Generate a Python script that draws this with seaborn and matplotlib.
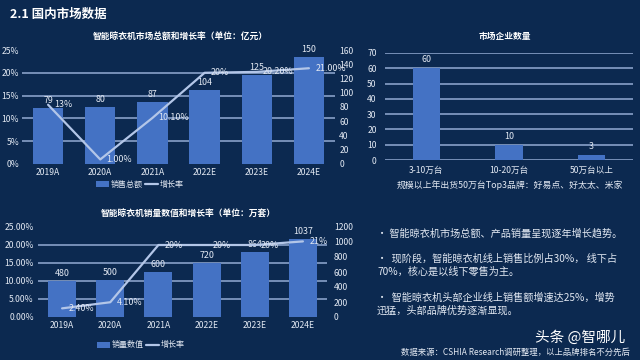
import numpy as np
import pandas as pd
import matplotlib
matplotlib.use("Agg")
import matplotlib.pyplot as plt
import seaborn as sns
from matplotlib.patches import Patch
from matplotlib.lines import Line2D
from matplotlib.ticker import FuncFormatter

# ---------------- data ----------------
years = ["2019A", "2020A", "2021A", "2022E", "2023E", "2024E"]
market_total = [79, 80, 87, 104, 125, 150]          # 亿元
market_rate = [13.0, 1.0, 10.1, 20.0, 20.2, 21.0]   # %
market_rate_labels = ["13%", "1.00%", "10.10%", "20%", "20.20%", "21.00%"]

sales_volume = [480, 500, 600, 720, 864, 1037]      # 万套
sales_rate = [2.4, 4.1, 20.0, 20.0, 20.0, 21.0]      # %
sales_rate_labels = ["2.40%", "4.10%", "20%", "20%", "20%", "21%"]

firm_groups = ["3-10万台", "10-20万台", "50万台以上"]
firm_counts = [60, 10, 3]

# ---------------- style ----------------
BG = "#0c2950"
BAR = "#4472c4"
LINE = "#b3c6e8"
GRID = "#93abd3"
TXT = "#e3e9f3"
TICK_FS = 6.2
LAB_FS = 6.4

sns.set_theme(style="dark", rc={"axes.facecolor": BG, "figure.facecolor": BG})
plt.rcParams["font.family"] = ["Noto Sans CJK SC", "DejaVu Sans"]

fig = plt.figure(figsize=(6.4, 3.6), dpi=100, facecolor=BG)


def frac(x0, y0, x1, y1):
    return [x0 / 640, 1 - y1 / 360, (x1 - x0) / 640, (y1 - y0) / 360]


def combo(rect, cats, bars, bmax, bstep, rates, rate_labels, pct_fmt, rpad, lpad):
    ax = fig.add_axes(rect)
    ax.set_facecolor("none")
    df = pd.DataFrame({"cat": cats, "val": bars, "rate": rates, "pos": np.arange(len(cats))})
    sns.barplot(data=df, x="cat", y="val", color=BAR, saturation=1, width=0.58, ax=ax,
                zorder=2, edgecolor="none", linewidth=0)
    ax.set_ylim(0, bmax)
    ax.set_yticks(np.arange(0, bmax + 1, bstep))
    ax.set_yticks(np.linspace(0, bmax, 6), minor=True)
    ax.grid(False)
    ax.grid(which="minor", axis="y", color=GRID, lw=1.1)
    ax.set_axisbelow(True)
    ax.set_xlabel("")
    ax.set_ylabel("")
    ax.bar_label(ax.containers[0], padding=2, fontsize=LAB_FS, color=TXT)
    for s in ax.spines.values():
        s.set_visible(False)

    ax2 = ax.twinx()
    sns.lineplot(data=df, x="pos", y="rate", ax=ax2, color=LINE, lw=1.6)
    ax2.yaxis.tick_left()
    ax.yaxis.tick_right()
    ax.tick_params(which="both", length=0, colors=TXT, labelsize=TICK_FS)
    ax.tick_params(axis="y", pad=rpad)
    ax.tick_params(axis="x", pad=3)
    ax2.set_ylim(0, 25)
    ax2.set_yticks(np.arange(0, 26, 5))
    ax2.yaxis.set_major_formatter(FuncFormatter(lambda v, p: pct_fmt.format(v)))
    ax2.grid(False)
    ax2.tick_params(length=0, colors=TXT, labelsize=TICK_FS, pad=lpad)
    ax2.set_xlabel("")
    ax2.set_ylabel("")
    for s in ax2.spines.values():
        s.set_visible(False)
    for i, (v, lab) in enumerate(zip(rates, rate_labels)):
        ax2.annotate(lab, (i, v), xytext=(4.5, 0), textcoords="offset points",
                     ha="left", va="center", fontsize=LAB_FS, color=TXT)
    ax.set_xlim(-0.5, len(cats) - 0.5)
    return ax


combo(frac(22, 50, 335, 164), years, market_total, 160, 20, market_rate,
      market_rate_labels, "{:.0f}%", 3, 2)
combo(frac(38, 227, 327, 317), years, sales_volume, 1200, 200, sales_rate,
      sales_rate_labels, "{:.2f}%", 5, 3)

# ---------------- firm count chart ----------------
ax3 = fig.add_axes(frac(385, 53, 633, 160))
ax3.set_facecolor("none")
df3 = pd.DataFrame({"g": firm_groups, "n": firm_counts})
sns.barplot(data=df3, x="g", y="n", color=BAR, saturation=1, width=0.33, ax=ax3, zorder=2,
            edgecolor="none", linewidth=0)
ax3.set_ylim(0, 70)
ax3.set_yticks(np.arange(0, 71, 10))
ax3.grid(False)
ax3.grid(axis="y", color=GRID, lw=1.1)
ax3.set_axisbelow(True)
ax3.tick_params(length=0, colors=TXT, labelsize=TICK_FS)
ax3.tick_params(axis="y", pad=6)
ax3.tick_params(axis="x", pad=4)
ax3.set_xlabel("")
ax3.set_ylabel("")
ax3.bar_label(ax3.containers[0], padding=3, fontsize=LAB_FS, color=TXT)
for s in ax3.spines.values():
    s.set_visible(False)

# ---------------- legends ----------------
for (cx, cy, name) in [(140, 184, "销售总额"), (141, 345, "销量数值")]:
    handles = [Patch(facecolor=BAR, edgecolor="none"), Line2D([], [], color=LINE, lw=1.6)]
    fig.legend(handles, [name, "增长率"], loc="center", bbox_to_anchor=(cx / 640, 1 - cy / 360),
               ncol=2, frameon=False, fontsize=5.8, labelcolor=TXT, handlelength=1.6,
               handleheight=0.7, handletextpad=0.3, columnspacing=0.2, borderpad=0)

# ---------------- texts ----------------
fig.text(10 / 640, 1 - 14 / 360, "2.1 国内市场数据", fontsize=9, fontweight="bold",
         color="white", va="center", ha="left")
fig.text(180 / 640, 1 - 37 / 360, "智能晾衣机市场总额和增长率（单位：亿元）", fontsize=6.3,
         fontweight="bold", color="white", ha="center", va="center")
fig.text(505 / 640, 1 - 37 / 360, "市场企业数量", fontsize=6.3, fontweight="bold",
         color="white", ha="center", va="center")
fig.text(188 / 640, 1 - 214 / 360, "智能晾衣机销量数值和增长率（单位：万套）", fontsize=6.3,
         fontweight="bold", color="white", ha="center", va="center")
fig.text(510 / 640, 1 - 185 / 360, "规模以上年出货50万台Top3品牌：好易点、好太太、米家",
         fontsize=6.4, color=TXT, ha="center", va="center")

bullets = [
    (233, "· 智能晾衣机市场总额、产品销量呈现逐年增长趋势。"),
    (259, "·  现阶段，智能晾衣机线上销售比例占30%， 线下占"),
    (272, "70%，核心是以线下零售为主。"),
    (298, "·  智能晾衣机头部企业线上销售额增速达25%，增势"),
    (311, "迅猛，头部品牌优势逐渐显现。"),
]
for y, t in bullets:
    fig.text(377 / 640, 1 - y / 360, t, fontsize=7.3, color=TXT, ha="left", va="center")

fig.text(625 / 640, 1 - 338 / 360, "头条 @智哪儿", fontsize=10.5, color="white",
         ha="right", va="center")
fig.text(630 / 640, 1 - 352 / 360, "数据来源：CSHIA Research调研整理，以上品牌排名不分先后",
         fontsize=6.0, color=TXT, ha="right", va="center")

fig.savefig("out.png", dpi=100, facecolor=BG)
